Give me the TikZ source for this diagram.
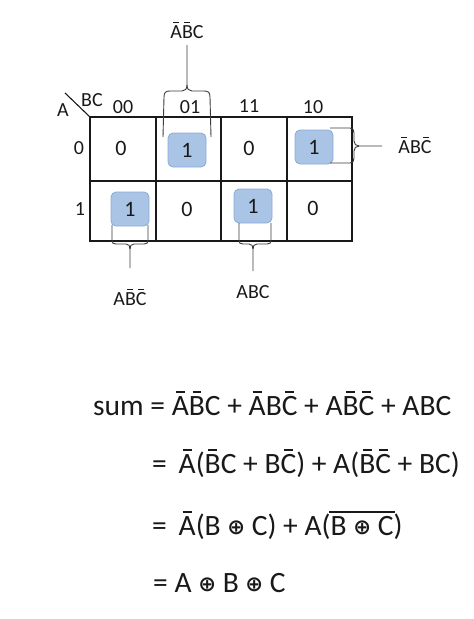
\documentclass[tikz,border=0pt]{standalone}
\usepackage{fontspec}
\usepackage{graphicx}
\setmainfont{Carlito}
\newfontfamily\djv{DejaVu Sans}
\newcommand\nb[1]{\leavevmode\setbox0\hbox{#1}\rlap{\hbox to \wd0{\hss\rule[\dimexpr\ht0+0.1em\relax]{0.55\wd0}{0.07em}\hss}}\box0\relax}
\newcommand\nbw[1]{\leavevmode\setbox2\hbox{#1}\rlap{\hbox to \wd2{\hss\rule[\dimexpr\ht2+0.1em\relax]{1.05\wd2}{0.065em}\hss}}\box2\relax}
\newcommand\xo{{\djv\bfseries\raisebox{0.02em}{\scalebox{0.72}{⊕}}}}
\definecolor{txt}{RGB}{25,25,25}
\definecolor{boxfill}{RGB}{170,196,230}
\definecolor{boxline}{RGB}{138,170,214}
\definecolor{brc}{RGB}{60,60,60}
\begin{document}
\begin{tikzpicture}[x=1pt,y=-1pt,
  gridline/.style={draw=txt,line width=1.1pt},
  onebox/.style={fill=boxfill,draw=boxline,line width=0.8pt,rounded corners=5pt,minimum width=38pt,minimum height=34pt,inner sep=0pt,text=txt,font=\fontsize{22}{22}\selectfont},
  cellval/.style={text=txt,font=\fontsize{22}{22}\selectfont,inner sep=0pt},
  hdr/.style={text=txt,font=\fontsize{20}{20}\selectfont,inner sep=0pt},
  lbl/.style={text=txt,font=\fontsize{20}{20}\selectfont,inner sep=0pt},
  brace/.style={draw=brc,line width=0.9pt},
  eq/.style={text=txt,font=\fontsize{29.5}{29.5}\selectfont,inner sep=0pt,anchor=base west}]
\useasboundingbox (0,0) rectangle (474,619);
% grid
\draw[gridline] (90,117) rectangle (352,241);
\draw[gridline] (90,181) -- (352,181);
\draw[gridline] (156,117) -- (156,241);
\draw[gridline] (221,117) -- (221,241);
\draw[gridline] (287,117) -- (287,241);
\draw[gridline] (65,93) -- (90,117);
% headers
\node[hdr] (hA) at (63,110) {A};
\node[hdr] (hBC) at (92,100) {BC};
\node[hdr] (c00) at (123,107) {00};
\node[hdr] (c01) at (190,107) {01};
\node[hdr] (c11) at (249,106) {11};
\node[hdr] (c10) at (313,107) {10};
\node[hdr] (r0) at (79,148) {0};
\node[hdr] (r1) at (80,209) {1};
% cells
\node[cellval] (m0) at (121,148) {0};
\node[onebox] (m1) at (187,150) {1};
\node[cellval] (m3) at (249,148) {0};
\node[onebox] (m2) at (314,147) {1};
\node[onebox] (m4) at (130,209) {1};
\node[cellval] (m5) at (187,209) {0};
\node[onebox] (m7) at (253,206) {1};
\node[cellval] (m6) at (313,208) {0};
% top brace
\draw[brace] (163,137) -- (164,97) .. controls (164,92) and (166,91) .. (170,91) -- (182,91) .. controls (185,91) and (187,89) .. (187,85) -- (187,45);
\draw[brace] (211,137) -- (210,97) .. controls (210,92) and (208,91) .. (204,91) -- (192,91) .. controls (189,91) and (187,89) .. (187,85);
\node[lbl] (l1) at (187,30) {\nb{A}\nb{B}C};
% right brace
\draw[brace] (330,128) -- (350,128) .. controls (353,128) and (354,130) .. (354,133) -- (354,141) .. controls (354,144) and (356,146) .. (359,146) -- (382,146);
\draw[brace] (330,163) -- (350,163) .. controls (353,163) and (354,161) .. (354,158) -- (354,151) .. controls (354,148) and (356,146) .. (359,146);
\node[lbl] (l2) at (415,145) {\nb{A}B\nb{C}};
% bottom left brace
\draw[brace] (112,225) -- (112,240) .. controls (112,243) and (113,244) .. (116,244) -- (126,244) .. controls (129,244) and (130,246) .. (130,249) -- (130,268);
\draw[brace] (148,225) -- (148,240) .. controls (148,243) and (147,244) .. (144,244) -- (134,244) .. controls (131,244) and (130,246) .. (130,249);
\node[lbl] (l3) at (130,297) {A\nb{B}\nb{C}};
% bottom ABC brace
\draw[brace] (239,223) -- (239,240) .. controls (239,243) and (240,244) .. (243,244) -- (249,244) .. controls (252,244) and (253,246) .. (253,249) -- (253,271);
\draw[brace] (271,223) -- (271,240) .. controls (271,243) and (270,244) .. (267,244) -- (257,244) .. controls (254,244) and (253,246) .. (253,249);
\node[lbl] (l4) at (253,292) {ABC};
% equations
\node[eq] (e1) at (93,415) {sum = \nb{A}\nb{B}C + \nb{A}B\nb{C} + A\nb{B}\nb{C} + ABC};
\node[eq] (e2) at (152,473) {=\hspace{0.4em}\nb{A}(\nb{B}C + B\nb{C}) + A(\nb{B}\nb{C} + BC)};
\node[eq] (e3) at (152,535) {=\hspace{0.4em}\nb{A}(B \xo{} C) + A(\nbw{B \xo{} C})};
\node[eq] (e4) at (153,592) {= A \xo{} B \xo{} C};
\end{tikzpicture}
\end{document}
